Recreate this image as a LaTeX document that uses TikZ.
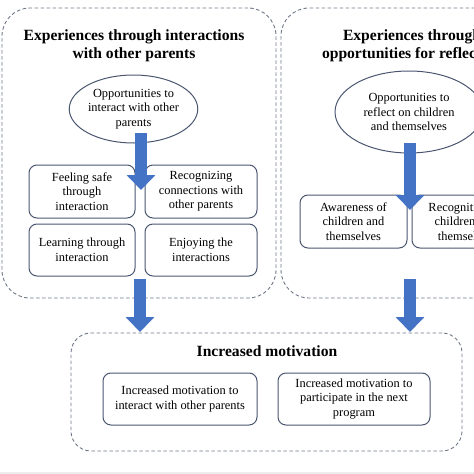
\documentclass[tikz,border=0pt]{standalone}
\usepackage{fontspec}
\setmainfont{Liberation Serif}
\usetikzlibrary{shapes.geometric,arrows.meta}
\definecolor{arrowblue}{HTML}{4472C4}
\definecolor{boxline}{HTML}{4A5670}
\definecolor{dashline}{HTML}{6E7787}
\tikzset{
 dbox/.style={draw=dashline, line width=0.9pt, dash pattern=on 3.5pt off 2.5pt, rounded corners=28pt, inner sep=0pt},
 ibox/.style={draw=boxline, line width=1pt, rounded corners=8pt, align=center, font=\fontsize{12.4}{14.5}\selectfont, inner sep=0pt},
 oval/.style={ellipse, draw=boxline, line width=1pt, align=center, font=\fontsize{12.4}{14.5}\selectfont, inner sep=0pt},
 ttl/.style={font=\fontsize{15.6}{18}\selectfont\bfseries, align=center, inner sep=0pt},
 bigarrow/.style={draw=arrowblue, line width=12pt, -{Triangle[width=28pt,length=15pt]}}
}
\begin{document}
\begin{tikzpicture}[x=1pt,y=-1pt]
\useasboundingbox (0,0) rectangle (474,474);
\fill[black!7] (0,472) rectangle (474,474);
% big dashed containers
\node[dbox, minimum width=274pt, minimum height=290pt] (L) at (139,153) {};
\node[dbox, minimum width=264pt, minimum height=290pt] (R) at (413,153) {};
\node[dbox, rounded corners=20pt, minimum width=391pt, minimum height=118pt] (B) at (266.5,392) {};
% titles
\node[ttl] (tL) at (134,46) {Experiences through interactions\\with other parents};
\node[ttl] (tR) at (412,46) {Experiences through\\opportunities for reflection};
\node[ttl] (tB) at (267,351) {Increased motivation};
% ellipses
\node[oval, minimum width=127pt, minimum height=68pt] (eL) at (133.5,109) {Opportunities to\\interact with other\\parents};
\node[oval, minimum width=148pt, minimum height=82pt] (eR) at (409,112) {Opportunities to\\reflect on children\\and themselves};
% left boxes
\node[ibox, minimum width=106pt, minimum height=53pt] (l1) at (82,191.5) {Feeling safe\\through\\interaction};
\node[ibox, minimum width=112pt, minimum height=53pt] (l2) at (201,191.5) {Recognizing\\connections with\\other parents};
\node[ibox, minimum width=106pt, minimum height=52pt] (l3) at (82,250) {Learning through\\interaction};
\node[ibox, minimum width=112pt, minimum height=52pt] (l4) at (201,250) {Enjoying the\\interactions};
% right boxes
\node[ibox, minimum width=107pt, minimum height=53pt] (r1) at (353.5,221.5) {Awareness of\\children and\\themselves};
\node[ibox, minimum width=107pt, minimum height=53pt] (r2) at (465.5,221.5) {Recognition of\\children and\\themselves};
% bottom boxes
\node[ibox, minimum width=154pt, minimum height=52pt] (b1) at (180,399) {Increased motivation to\\interact with other parents};
\node[ibox, minimum width=152pt, minimum height=52pt] (b2) at (354,399) {Increased motivation to\\participate in the next\\program};
% arrows
\coordinate (aL1) at (141,133); \coordinate (aL2) at (141,190);
\coordinate (aR1) at (410,143); \coordinate (aR2) at (410,210);
\coordinate (bL1) at (140,279); \coordinate (bL2) at (140,332);
\coordinate (bR1) at (410,279); \coordinate (bR2) at (410,332);
\draw[bigarrow] (aL1) -- (aL2);
\draw[bigarrow] (aR1) -- (aR2);
\draw[bigarrow] (bL1) -- (bL2);
\draw[bigarrow] (bR1) -- (bR2);
\end{tikzpicture}
\end{document}
